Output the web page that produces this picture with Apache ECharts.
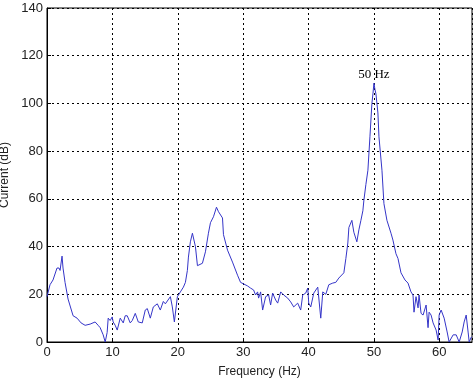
<!DOCTYPE html>
<html>
<head>
<meta charset="utf-8">
<script src="https://cdn.jsdelivr.net/npm/echarts@6/dist/echarts.min.js"></script>
<style>html,body{margin:0;padding:0;background:#fff;}#c{width:474px;height:380px;}</style>
</head>
<body>
<div id="c"></div>
<script>
const freqHz = [0.00,0.46,0.92,1.53,1.84,2.00,2.30,2.45,2.76,3.22,3.99,4.60,5.21,5.83,6.60,7.36,7.82,8.13,8.59,8.90,9.20,9.36,9.66,9.97,10.12,10.43,10.74,11.20,11.66,11.96,12.27,12.73,13.04,13.50,13.96,14.26,14.57,15.03,15.34,15.80,16.26,16.87,17.33,17.79,18.10,18.40,18.87,19.17,19.48,19.63,19.94,20.40,20.86,21.17,21.47,21.63,21.93,22.24,22.39,22.70,23.01,23.31,23.77,24.23,24.69,25.00,25.46,25.92,26.23,26.84,26.99,27.61,28.37,29.14,29.60,30.67,31.13,31.60,31.90,32.21,32.36,32.67,32.98,33.44,33.90,34.20,34.51,34.97,35.28,35.74,36.20,36.81,37.27,37.73,38.34,38.80,39.11,39.57,39.88,40.03,40.34,40.80,41.41,41.87,42.18,42.64,43.10,43.71,44.17,44.63,45.40,45.71,46.01,46.17,46.63,46.93,47.39,47.70,48.01,48.31,48.47,48.77,49.08,49.39,49.69,49.85,50.00,50.15,50.31,50.61,50.77,51.23,51.53,51.99,52.61,52.91,53.37,53.68,54.14,54.75,55.21,55.67,55.98,56.13,56.44,56.75,56.90,57.21,57.52,57.98,58.28,58.44,58.74,59.05,59.51,59.82,59.97,60.28,60.74,61.20,61.50,62.12,62.58,63.04,63.50,63.80,64.11,64.42,64.57,64.88,65.00];
const currentDb = [19,24,26,31,31,30,36,31,25,18,11,10,8,7,7.5,8.4,7,6,3,0,4,10,9,10.5,8.4,7,5,10,8,11,11,8,9,12,8.4,9,8,13.4,14,10,14.7,16,13.4,17,16,15.5,19,14.7,8.4,9,19,21,23,25,30,35.6,42,45.6,45,40,32,31.3,33,37.8,45.6,50,52.5,56.5,54.6,52,45,38.5,33.5,28,25,23.5,22.6,21.8,19.7,21,18.4,21,13.4,19,19.7,15.5,20.5,17.6,16.3,21,19.7,18.4,16.8,14.7,16.3,13.4,19.7,20.5,22.6,16.3,14.7,20.5,23,10,21,20,24,24.7,25,26.8,29,35,41.5,48,51,46,42,47,51,55,59.5,66,72,86,100,104,108.5,106,104,96,86,72,58,51,45.6,42.7,37,35,29,26,24.7,21,19.7,12.5,19,14.3,19.7,12,11.3,15.5,6,12.5,11.3,8,5,0.8,11.3,13.4,10,4.2,0,3,3,0,4.2,8.4,11.3,3.8,0,2,2];
const peakLabel = '50 Hz';
const peakPoint = [50.00, 108.5];
const xTitle = 'Frequency (Hz)';
const yTitle = 'Current (dB)';

const chart = echarts.init(document.getElementById('c'));
const gridLine = {show:true, lineStyle:{color:'#000', type:[2,3], width:1}};
chart.setOption({
  animation:false,
  grid:{left:47, right:2, top:8, bottom:38, containLabel:false, outerBoundsMode:'none',
    show:true, borderColor:'#000', borderWidth:1, backgroundColor:'transparent'},
  xAxis:{type:'value', min:0, max:65, interval:10,
    name:xTitle, nameLocation:'middle', nameGap:24,
    nameTextStyle:{fontFamily:'Liberation Sans', fontSize:12, color:'#222'},
    axisLine:{lineStyle:{color:'#000'}}, axisTick:{inside:true, length:4, lineStyle:{color:'#000'}},
    axisLabel:{showMaxLabel:false, fontFamily:'Liberation Sans', fontSize:13, color:'#222', margin:4},
    splitLine:gridLine},
  yAxis:{type:'value', min:0, max:140, interval:20,
    name:yTitle, nameLocation:'middle', nameGap:30,
    nameTextStyle:{fontFamily:'Liberation Sans', fontSize:12, color:'#222'},
    axisLine:{show:true, lineStyle:{color:'#000'}}, axisTick:{show:true, inside:true, length:4, lineStyle:{color:'#000'}},
    axisLabel:{fontFamily:'Liberation Sans', fontSize:13, color:'#222', margin:4},
    splitLine:gridLine},
  series:[{type:'line', data:freqHz.map((f,i)=>[f, currentDb[i]]), showSymbol:false, symbol:'none',
    lineStyle:{color:'#3535c8', width:1}, clip:true,
    markPoint:{symbol:'circle', symbolSize:0, silent:true,
      data:[{coord:peakPoint, label:{show:true, formatter:peakLabel, position:'top', distance:2,
        fontFamily:'Liberation Serif', fontSize:13, color:'#000'}}]}}]
});
</script>
</body>
</html>
